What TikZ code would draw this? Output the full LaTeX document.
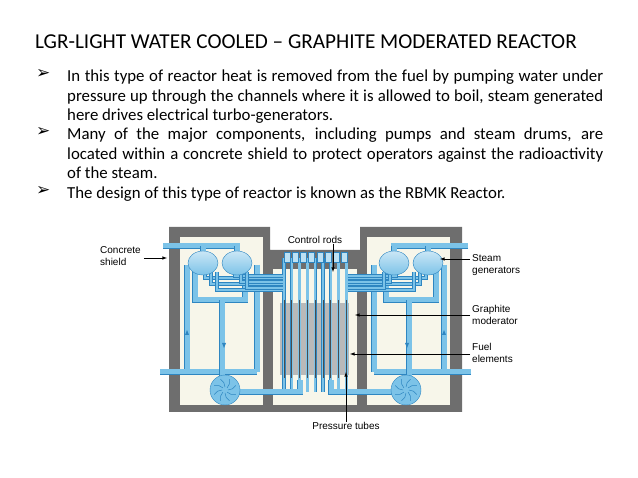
\documentclass[tikz,border=0pt]{standalone}
\usepackage{fontspec}
\setmainfont{Carlito}
\newfontfamily\arialf{Liberation Sans}
\newfontfamily\symf{DejaVu Sans}
\definecolor{pipeb}{HTML}{7CC3E8}
\definecolor{pipeo}{HTML}{2E86C1}
\definecolor{shieldg}{HTML}{6E6E6E}
\definecolor{creamc}{HTML}{F7F6EA}
\hyphenpenalty=10000
\exhyphenpenalty=10000
\begin{document}
\begin{tikzpicture}[x=1pt,y=-1pt,
  pipe/.style={draw=pipeo,line width=0.5pt,double=pipeb,double distance=5pt,line join=miter},
  thin pipe/.style={draw=pipeo,line width=0.4pt,double=pipeb,double distance=2.5pt},
  lbl/.style={font=\arialf\fontsize{10}{12}\selectfont,align=left,anchor=west,inner sep=0pt},
  bullet/.style={anchor=north west,inner sep=0pt,text width=536pt,align=justify,font=\fontsize{16.8}{19.3}\selectfont},
  mk/.style={anchor=north west,inner sep=0pt,font=\symf\bfseries\fontsize{17}{18}\selectfont},
  arr/.style={-latex,line width=0.6pt}]
\useasboundingbox (0,0) rectangle (638,478);
\node[anchor=west,inner sep=0pt,font=\fontsize{21.2}{25}\selectfont] (title) at (35,42) {LGR-LIGHT WATER COOLED -- GRAPHITE MODERATED REACTOR};
\node[mk] (b1) at (36,69) {➢};
\node[bullet] (t1) at (67,70) {In this type of reactor heat is removed from the fuel by pumping water under pressure up through the channels where it is allowed to boil, steam generated here drives electrical turbo-generators.};
\node[mk] (b2) at (36,127) {➢};
\node[bullet] (t2) at (67,128) {Many of the major components, including pumps and steam drums, are\linebreak located within a concrete shield to protect operators against the radioactivity\linebreak of the steam.};
\node[mk] (b3) at (36,186) {➢};
\node[bullet] (t3) at (67,187) {The design of this type of reactor is known as the RBMK Reactor.};
% shield
\fill[shieldg] (169,227) -- (270,227) -- (270,250) -- (360,250) -- (360,227) -- (462,227) -- (462,412) -- (169,412) -- cycle;
\fill[creamc] (180,237) rectangle (263,405);
\fill[creamc] (273,269) rectangle (357,405);
\fill[creamc] (367,237) rectangle (450,405);
% graphite
\fill[gray!55] (280,303) rectangle (349,375);
% core tubes
\foreach \i in {0,...,8}{
  \draw[thin pipe] ({284+\i*7.8},258) -- ({284+\i*7.8},392);
  \draw[black!70,line width=1pt] ({284+\i*7.8},300) -- ({284+\i*7.8},378);
}
\foreach \i in {0,...,7}{
  \draw[pipeo,fill=pipeb!50] ({284+\i*8.2},252) rectangle ({290+\i*8.2},262);
}
% one half drawn twice
\foreach \mir/\sh in {1/0,-1/631}{
\begin{scope}[xshift=\sh pt,xscale=\mir]
  \draw[pipe] (163,246) -- (240,246);
  \draw[pipe] (203,246) -- (203,252);
  \draw[pipe] (237,246) -- (237,252);
  \draw[pipe] (187,265) -- (187,372);
  \draw[pipe] (257,265) -- (257,372);
  \draw[pipe] (160,372) -- (257,372);
  \draw[pipe] (195,270) -- (195,300) -- (245,300) -- (245,270);
  \draw[pipe] (222,300) -- (222,378);
  \draw[pipe] (225,392) -- (300,392) -- (300,380);
  \foreach \k in {0,1,2}{
    \draw[thin pipe] ({205+\k*6},272) -- ({205+\k*6},{278+\k*6}) -- (283,{278+\k*6});
    \draw[thin pipe] ({235+\k*6},272) -- ({235+\k*6},{276+\k*6}) -- (283,{276+\k*6});
  }
  \draw[pipeo,top color=pipeb!40,bottom color=pipeb] (203,263) ellipse (15 and 12);
  \draw[pipeo,top color=pipeb!40,bottom color=pipeb] (237,263) ellipse (15 and 12);
  \draw[pipeo,fill=pipeb] (225,390) circle (15);
  \foreach \a in {0,45,...,315}
    \draw[pipeo,line width=0.5pt] (225,390) ++(\a:3) arc (\a+90:\a+30:9);
  \fill[pipeo] (185,335) -- (189,335) -- (187,330) -- cycle;
  \fill[pipeo] (222,343) -- (226,343) -- (224,348) -- cycle;
\end{scope}
}
% labels
\node[lbl] (cs) at (100,256) {Concrete\\shield};
\draw[arr] (cs.east) ++(3,2) coordinate (cs1) -- (167,258);
\node[lbl,anchor=south] (cr) at (315,244) {Control rods};
\coordinate (crt) at (333,272);
\draw[arr] (333,244) -- (crt);
\node[lbl] (sg) at (472,265) {Steam\\generators};
\draw[arr] (sg.west) ++(-2,-6) -- (440,259);
\node[lbl] (gm) at (472,315) {Graphite\\moderator};
\draw[arr] (gm.west) ++(-2,0) -- (355,315);
\node[lbl] (fe) at (472,353) {Fuel\\elements};
\draw[arr] (fe.west) ++(-2,1) -- (350,354);
\node[lbl,anchor=north] (pt) at (346,422) {Pressure tubes};
\draw[arr] (pt.north) -- (346,372);
\end{tikzpicture}
\end{document}
